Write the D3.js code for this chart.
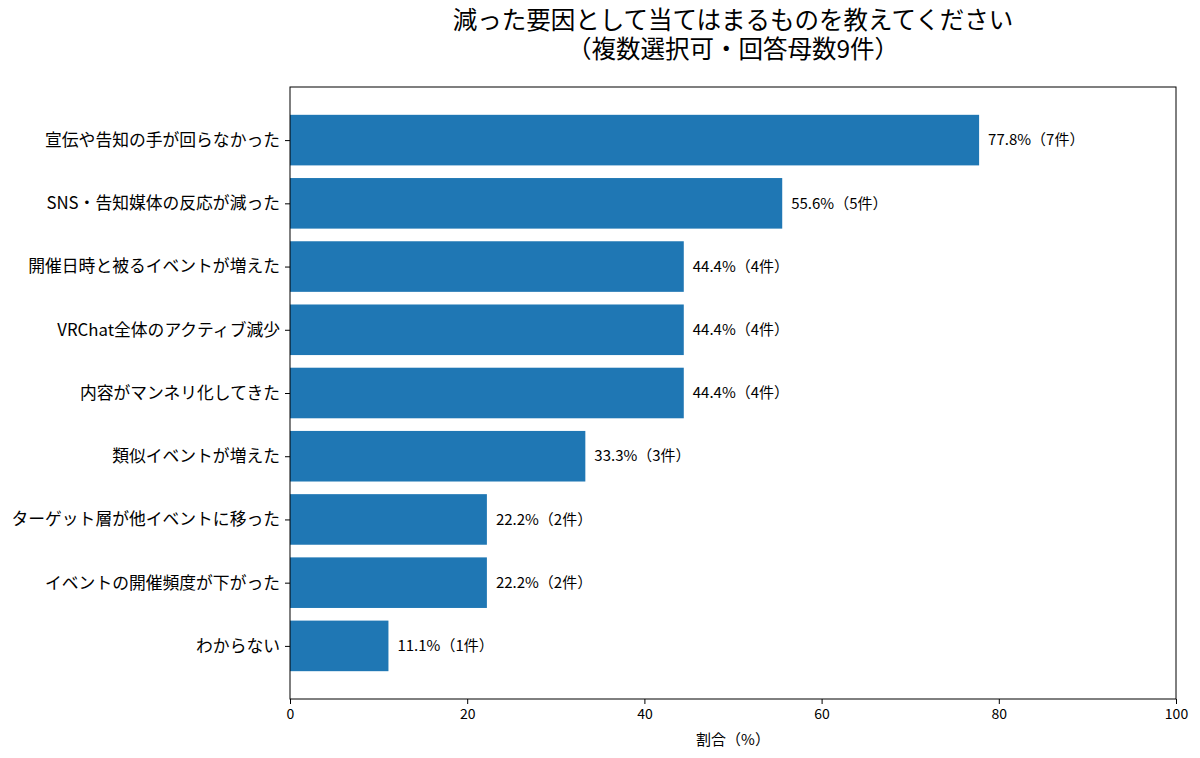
<!DOCTYPE html>
<html>
<head>
<meta charset="utf-8">
<script src="https://cdn.jsdelivr.net/npm/d3@7"></script>
<style>
  body { margin: 0; background: #fff; }
  text { font-family: "Noto Sans CJK JP", "Noto Sans", sans-serif; fill: #000; }
</style>
</head>
<body>
<div id="chart"></div>
<script>
// 減った要因 (複数選択可)
const categories = [
    "宣伝や告知の手が回らなかった",
    "SNS・告知媒体の反応が減った",
    "開催日時と被るイベントが増えた",
    "VRChat全体のアクティブ減少",
    "内容がマンネリ化してきた",
    "類似イベントが増えた",
    "ターゲット層が他イベントに移った",
    "イベントの開催頻度が下がった",
    "わからない"
];
const counts = [7, 5, 4, 4, 4, 3, 2, 2, 1];
const total = 9;
const xTicks = [0, 20, 40, 60, 80, 100];

const data = categories.map((c, i) => ({
    label: c,
    count: counts[i],
    pct: counts[i] / total * 100
}));

const width = 1200, height = 758;
const margin = { top: 87, right: 24, bottom: 59, left: 290 };
const w = width - margin.left - margin.right;
const h = height - margin.top - margin.bottom;

const svg = d3.select("#chart").append("svg")
    .attr("width", width)
    .attr("height", height);

const g = svg.append("g")
    .attr("transform", `translate(${margin.left},${margin.top})`);

const x = d3.scaleLinear().domain([0, 100]).range([0, w]);
// matplotlib-like: bar height 0.8, 5% margins
const n = data.length;
const y = d3.scaleLinear().domain([-0.84, n - 1 + 0.84]).range([0, h]);

g.selectAll("rect.bar")
    .data(data)
    .enter().append("rect")
    .attr("class", "bar")
    .attr("x", x(0))
    .attr("y", (d, i) => y(i - 0.4))
    .attr("width", d => x(d.pct) - x(0))
    .attr("height", y(0.4) - y(-0.4))
    .attr("fill", "#1f77b4");

g.selectAll("text.val")
    .data(data)
    .enter().append("text")
    .attr("class", "val")
    .attr("x", d => x(d.pct) + 9)
    .attr("y", (d, i) => y(i))
    .attr("dy", "0.35em")
    .attr("font-size", 15)
    .text(d => `${d.pct.toFixed(1)}%（${d.count}件）`);

// axes
const xAxis = g.append("g")
    .attr("transform", `translate(0,${h})`)
    .call(d3.axisBottom(x).tickValues(xTicks).tickSize(5).tickPadding(5).tickFormat(d3.format("d")));
xAxis.selectAll("text").attr("font-size", 14);

const yAxis = g.append("g")
    .call(d3.axisLeft(y).tickValues(d3.range(n)).tickSize(5).tickPadding(5)
        .tickFormat(i => categories[i]));
yAxis.selectAll("text").attr("font-size", 16.8);

[xAxis, yAxis].forEach(a => {
    a.select(".domain").remove();
    a.selectAll("line").attr("stroke", "#000").attr("stroke-width", 1);
});

// frame
g.append("rect")
    .attr("x", 0).attr("y", 0)
    .attr("width", w).attr("height", h)
    .attr("fill", "none")
    .attr("stroke", "#000")
    .attr("stroke-width", 1);

g.append("text")
    .attr("x", w / 2)
    .attr("y", h + 46)
    .attr("text-anchor", "middle")
    .attr("font-size", 15)
    .text("割合（%）");

const title = svg.append("text")
    .attr("x", margin.left + w / 2)
    .attr("text-anchor", "middle")
    .attr("font-size", 24.5);
title.append("tspan").attr("x", margin.left + w / 2).attr("y", 29)
    .text("減った要因として当てはまるものを教えてください");
title.append("tspan").attr("x", margin.left + w / 2).attr("y", 58)
    .text("（複数選択可・回答母数9件）");
</script>
</body>
</html>
